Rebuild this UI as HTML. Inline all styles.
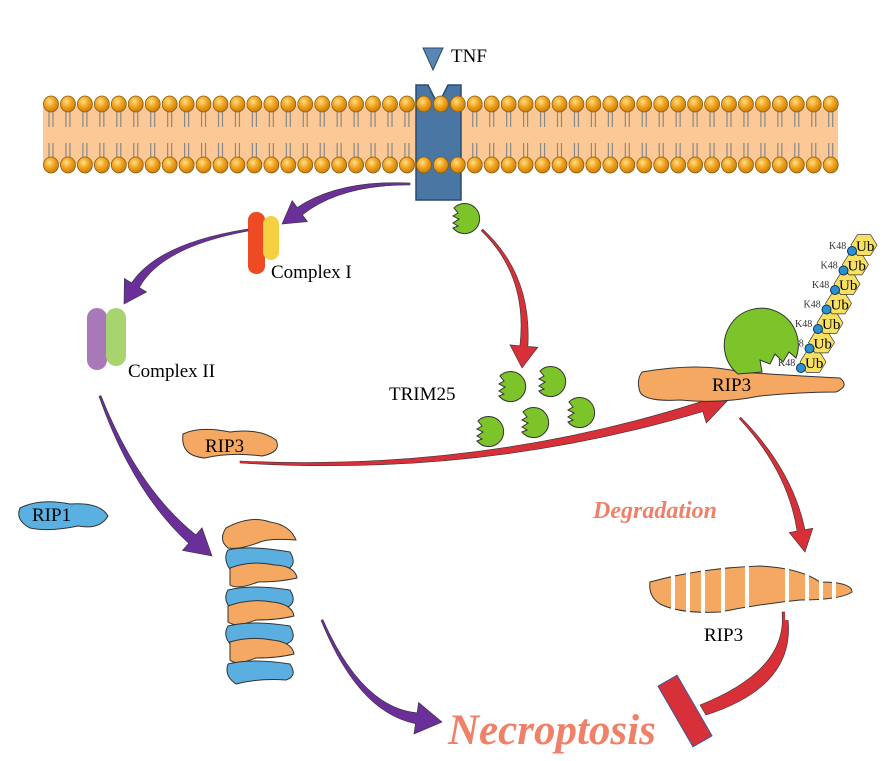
<!DOCTYPE html>
<html><head><meta charset="utf-8"><style>
html,body{margin:0;padding:0;background:#fff;}
svg{display:block;}
text{font-family:"Liberation Serif",serif;}
</style></head><body>
<svg id="s" width="891" height="761" viewBox="0 0 891 761" xmlns="http://www.w3.org/2000/svg">
<defs>
<radialGradient id="head" cx="0.4" cy="0.35" r="0.7"><stop offset="0" stop-color="#fde08a"/><stop offset="0.5" stop-color="#f2a11a"/><stop offset="1" stop-color="#c07a08"/></radialGradient>
<g id="trim"><path d="M-10,-11 A15,15 0 1 1 -11,9 L-6,7 L-11,4 L-5,0 L-11,-3 L-6,-6 Z" fill="#7cc42a" stroke="#333" stroke-width="1"/></g>
</defs>
<!-- membrane -->
<rect x="43" y="106" width="795" height="58" fill="#fcc996"/>
<g id="tails" stroke="#888" stroke-width="1.2" fill="none"></g>
<!-- receptor -->
<path d="M416,85 L428,85 L438,105 L448,85 L461,85 L461,200 L416,200 Z" fill="#4a76a4" stroke="#2a4a70" stroke-width="1.5"/>
<g id="heads"></g>
<path d="M423,48 L443,48 L433,70 Z" fill="#5a86b4" stroke="#2a4a70"/>
<text x="451" y="62" font-size="19">TNF</text>
<!-- complexes -->
<rect x="248" y="212" width="17" height="62" rx="8" fill="#ee4a24"/>
<rect x="263" y="216" width="16" height="44" rx="8" fill="#f6d040"/>
<text x="271" y="278" font-size="19">Complex I</text>
<rect x="87" y="308" width="20" height="62" rx="10" fill="#a878b8"/>
<rect x="106" y="308" width="20" height="58" rx="10" fill="#a8d470"/>
<text x="128" y="377" font-size="19">Complex II</text>
<g id="arrows"></g>
<rect x="674" y="676" width="22" height="70" fill="#d83038" stroke="#3a5aa0" transform="rotate(-30 685 711)"/>
<!-- trim25 -->
<use href="#trim" x="464" y="219"/>
<use href="#trim" x="510" y="387"/>
<use href="#trim" x="550" y="382"/>
<use href="#trim" x="579" y="413"/>
<use href="#trim" x="533" y="423"/>
<use href="#trim" x="488" y="432"/>
<text x="389" y="400" font-size="19">TRIM25</text>
<!-- RIP3 left -->
<path d="M183,434 Q200,426 230,432 Q260,428 276,440 Q282,452 262,456 Q230,452 205,458 Q180,456 183,434 Z" fill="#f4a862" stroke="#333"/>
<text x="205" y="452" font-size="19">RIP3</text>
<path d="M20,508 Q40,498 70,504 Q100,502 108,516 Q100,530 78,526 Q50,532 30,528 Q15,520 20,508 Z" fill="#5ab0e0" stroke="#333"/>
<text x="32" y="521" font-size="19">RIP1</text>
<!-- stack -->
<g stroke="#333" stroke-width="1">
<path d="M226,528 Q250,515 270,522 Q290,525 296,540 Q270,538 260,542 Q240,550 228,548 Q218,540 226,528 Z" fill="#f4a862"/>
<path d="M228,550 Q250,545 290,552 Q298,565 286,570 Q260,566 232,572 Q222,560 228,550 Z" fill="#5aaee0"/>
<path d="M230,568 Q250,560 275,565 Q295,566 297,578 Q280,582 258,582 Q238,590 230,585 Z" fill="#f4a862"/>
<path d="M228,590 Q252,584 290,590 Q298,603 286,608 Q260,604 232,610 Q222,600 228,590 Z" fill="#5aaee0"/>
<path d="M228,606 Q250,598 272,602 Q292,604 294,616 Q278,620 256,620 Q236,628 228,622 Z" fill="#f4a862"/>
<path d="M228,626 Q252,620 290,626 Q298,640 286,644 Q260,640 232,646 Q222,636 228,626 Z" fill="#5aaee0"/>
<path d="M230,642 Q250,636 272,640 Q292,642 294,654 Q278,658 256,658 Q236,666 230,660 Z" fill="#f4a862"/>
<path d="M228,664 Q252,658 290,664 Q298,676 286,680 Q260,678 236,684 Q224,676 228,664 Z" fill="#5aaee0"/>
</g>
<!-- ubiquitin chain -->
<g id="ub"></g>
<!-- RIP3 big -->
<path d="M642,372 Q700,362 740,372 Q800,376 840,378 Q850,386 836,392 Q800,392 760,396 Q720,404 680,400 Q645,402 640,392 Q636,380 642,372 Z" fill="#f4a862" stroke="#333"/>
<path d="M738,374 A37,37 0 1 1 796,358 L789,352 L783,362 L775,354 L770,364 L760,360 L762,372 Z" fill="#7cc42a" stroke="#333"/>
<text x="712" y="391" font-size="19">RIP3</text>
<!-- degraded RIP3 -->
<path d="M650,582 Q700,568 760,566 Q800,568 820,582 Q852,582 852,592 Q840,600 800,600 Q760,604 720,612 Q680,614 660,604 Q648,596 650,582 Z" fill="#f4a862" stroke="#333"/>
<g fill="#fff"><rect x="671" y="560" width="4" height="60"/><rect x="686" y="560" width="4" height="60"/><rect x="701" y="560" width="4" height="60"/><rect x="721" y="560" width="4" height="60"/><rect x="745" y="560" width="4" height="60"/><rect x="785" y="560" width="4" height="60"/><rect x="805" y="560" width="4" height="60"/><rect x="819" y="560" width="4" height="60"/><rect x="832" y="560" width="4" height="60"/></g>
<text x="704" y="641" font-size="19">RIP3</text>
<text x="593" y="518" font-size="24" font-weight="bold" font-style="italic" fill="#f08068">Degradation</text>
<text x="448" y="744" font-size="43" font-weight="bold" font-style="italic" fill="#f08068">Necroptosis</text>
</svg>
<script>
var ns="http://www.w3.org/2000/svg",h=document.getElementById('heads'),t=document.getElementById('tails');
function el(n,a,p){var e=document.createElementNS(ns,n);for(var k in a)e.setAttribute(k,a[k]);p.appendChild(e);return e;}
for(var i=0;i<47;i++){var x=51+i*16.95;
[104,165].forEach(function(y){el('ellipse',{cx:x,cy:y,rx:7.5,ry:8,fill:'url(#head)',stroke:'#8a5a10','stroke-width':0.8},h);});
el('path',{d:'M'+(x-2)+',112 L'+(x-2)+',127 M'+(x+2)+',112 L'+(x+2)+',127 M'+(x-2)+',143 L'+(x-2)+',157 M'+(x+2)+',143 L'+(x+2)+',157'},t);}
var A=document.getElementById('arrows');
function arrow(x0,y0,cx,cy,x1,y1,w0,w1,hl,hw,col){
 var dx=x1-cx,dy=y1-cy,L=Math.hypot(dx,dy);dx/=L;dy/=L;
 var bx=x1-dx*hl,by=y1-dy*hl;
 // tapered body: offset control points
 var n0x=-(cy-y0),n0y=(cx-x0),l0=Math.hypot(n0x,n0y);n0x/=l0;n0y/=l0;
 var nx=-dy,ny=dx;
 var d='M'+(x0+n0x*w0/2)+','+(y0+n0y*w0/2)+' Q'+(cx+(n0x+nx)*(w0+w1)/8)+','+(cy+(n0y+ny)*(w0+w1)/8)+' '+(bx+nx*w1/2)+','+(by+ny*w1/2)+
 ' L'+(bx+nx*hw/2)+','+(by+ny*hw/2)+' L'+x1+','+y1+' L'+(bx-nx*hw/2)+','+(by-ny*hw/2)+' L'+(bx-nx*w1/2)+','+(by-ny*w1/2)+
 ' Q'+(cx-(n0x+nx)*(w0+w1)/8)+','+(cy-(n0y+ny)*(w0+w1)/8)+' '+(x0-n0x*w0/2)+','+(y0-n0y*w0/2)+' Z';
 el('path',{d:d,fill:col,stroke:'#333','stroke-width':0.6},A);}
var P='#6a2f98',R='#d83038';
arrow(410,184,340,182,282,224,2,9,22,26,P);
arrow(248,230,160,245,124,304,2,9,22,26,P);
arrow(100,396,135,490,212,556,2,11,26,30,P);
arrow(322,620,360,710,442,722,2,11,26,32,P);
arrow(482,230,530,275,522,368,2,8,22,28,R);
arrow(240,462,480,475,730,398,2,10,30,34,R);
arrow(740,418,790,470,805,552,2,8,22,24,R);
el('path',{d:'M782,612 Q788,670 700,705 L706,715 Q800,685 787,612 Z',fill:R,stroke:'#333','stroke-width':0.6},A);
var u=document.getElementById('ub');
for(var k=0;k<7;k++){var cx=813+k*8.5,cy=362-k*19.5,pts=[];
for(var a=0;a<6;a++){var an=Math.PI/3*a;pts.push((cx+13*Math.cos(an))+','+(cy+12*Math.sin(an)));}
el('polygon',{points:pts.join(' '),fill:'#f8e060',stroke:'#333','stroke-width':0.7},u);
var tx=el('text',{x:cx-8,y:cy+6,'font-size':15},u);tx.textContent='Ub';
el('circle',{cx:cx-12,cy:cy+6,r:4.5,fill:'#2a90d0',stroke:'#135'},u);
var kt=el('text',{x:cx-35,y:cy+4,'font-size':10,fill:'#333'},u);kt.textContent='K48';}
</script>
</body></html>
